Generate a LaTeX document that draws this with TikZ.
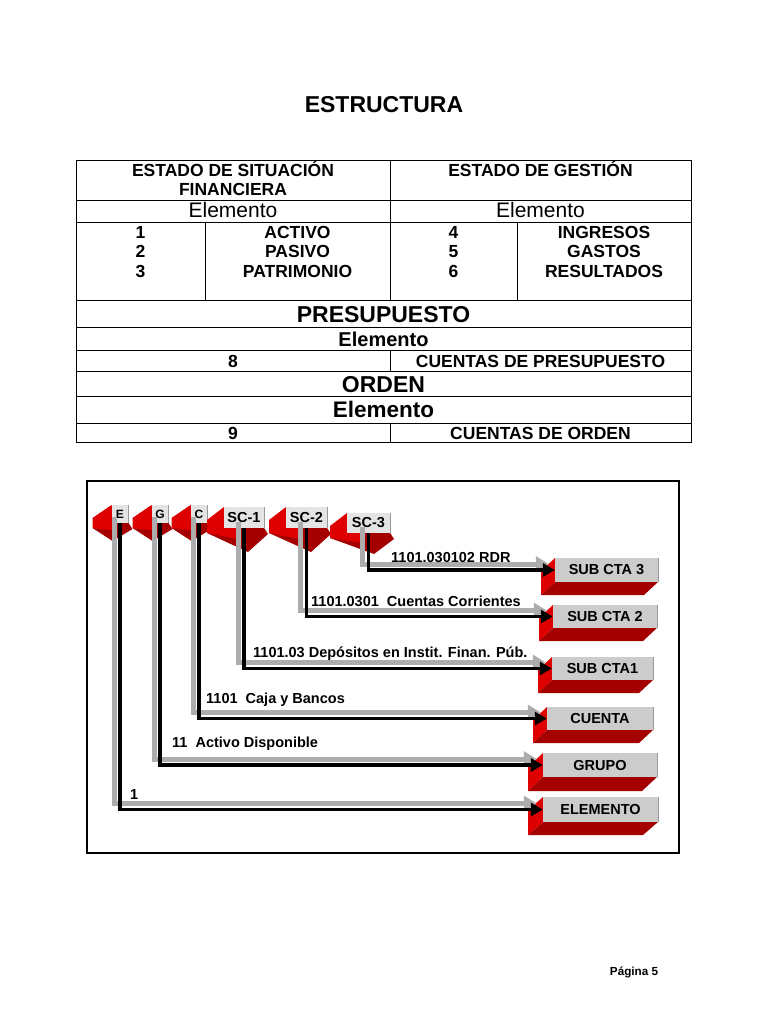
\documentclass[tikz,border=0pt]{standalone}
\usepackage{fontspec}
\setmainfont{Liberation Sans}
\usetikzlibrary{arrows.meta,calc}
\definecolor{redlight}{RGB}{222,0,0}
\definecolor{reddark}{RGB}{165,0,0}
\definecolor{facegray}{RGB}{204,204,204}
\definecolor{facelight}{RGB}{228,228,228}
\newcommand{\fEGC}{\fontsize{12}{14}\selectfont}
% right boxes: #1 name, #2 x0, #3 y0, #4 w, #5 h, #6 dx, #7 dy, #8 label, #9 fill
\newcommand{\blockthreed}[9]{%
  \fill[redlight] (#2,#3) -- (#2,#3+#5) -- (#2-#6,#3+#5+#7) -- (#2-#6,#3+#7) -- cycle;
  \fill[reddark] (#2,#3+#5) -- (#2+#4,#3+#5) -- (#2+#4-#6,#3+#5+#7) -- (#2-#6,#3+#5+#7) -- cycle;
  \node[boxface, fill=#9, minimum width=#4pt, minimum height=#5pt] (#1) at (#2+#4/2,#3+#5/2) {#8};
  \draw[white, line width=1pt] (#1.north west) -- (#1.north east);
  \draw[black!40, line width=1pt] (#1.north east) -- (#1.south east);
}
% top tabs: #1 name, #2 x0, #3 y0, #4 w, #5 h, #6 left reach, #7 depth, #8 label
\newcommand{\tabthreed}[8]{%
  \fill[reddark] (#2,#3+#5) -- (#2+#4,#3+#5) -- (#2+#4+4,#3+#5+6)
     -- (#2+#4-16,#3+#5+#7) -- (#2-#6,#3+#5+5) -- cycle;
  \fill[redlight] (#2,#3) -- (#2-#6,#3+13) -- (#2-#6,#3+#5+5) -- (#2+#4*0.3,#3+#5+#7*0.45) -- (#2+#4*0.3,#3+#5) -- cycle;
  \node[boxface, fill=facelight, minimum width=#4pt, minimum height=#5pt] (#1) at (#2+#4/2,#3+#5/2) {#8};
  \draw[white, line width=1pt] (#1.north west) -- (#1.north east);
  \draw[black!40, line width=1pt] (#1.north east) -- (#1.south east);
}
\begin{document}
\begin{tikzpicture}[x=1pt,y=-1pt,
  boxface/.style={inner sep=0pt, font=\bfseries\fontsize{14.5}{16}\selectfont},
  cell/.style={inner sep=0pt, anchor=base},
  grid/.style={line width=0.9pt},
  hb/.style={font=\bfseries\fontsize{17.5}{20}\selectfont},
  big/.style={font=\bfseries\fontsize{23}{26}\selectfont},
  elreg/.style={font=\fontsize{21}{24}\selectfont},
  elfive/.style={font=\bfseries\fontsize{20}{23}\selectfont},
  eleight/.style={font=\bfseries\fontsize{22.5}{25}\selectfont},
  lbl/.style={inner sep=0pt, anchor=base west, font=\bfseries\fontsize{14.5}{16}\selectfont},
  conn/.style={line width=3.5pt, -{Triangle[length=12pt,width=13pt]}},
  connshadow/.style={line width=5pt, black!32, -{Triangle[length=13pt,width=15pt]},
    transform canvas={xshift=-6pt,yshift=6pt}},
]
\useasboundingbox (0,0) rectangle (768,1024);

% title
\node[cell,big] (title) at (384,113) {ESTRUCTURA};

% table grid
\draw[grid] (76,160) rectangle (691,442);
\foreach \yy in {200,222,300,327,350,371,396,423}
  \draw[grid] (76,\yy) -- (691,\yy);
\draw[grid] (390,160) -- (390,300);
\draw[grid] (205,222) -- (205,300);
\draw[grid] (517,222) -- (517,300);
\draw[grid] (390,350) -- (390,371);
\draw[grid] (390,423) -- (390,442);

% table texts
\node[cell,hb] (h1) at (233,177) {ESTADO DE SITUACIÓN};
\node[cell,hb] (h1b) at (233,196) {FINANCIERA};
\node[cell,hb] (h2) at (540.5,177) {ESTADO DE GESTIÓN};
\node[cell,elreg] (el1) at (233,218) {Elemento};
\node[cell,elreg] (el2) at (540.5,218) {Elemento};
\node[cell,hb] (n1) at (140.5,239) {1};
\node[cell,hb] (n2) at (140.5,258) {2};
\node[cell,hb] (n3) at (140.5,277) {3};
\node[cell,hb] (t1) at (297.5,239) {ACTIVO};
\node[cell,hb] (t2) at (297.5,258) {PASIVO};
\node[cell,hb] (t3) at (297.5,277) {PATRIMONIO};
\node[cell,hb] (n4) at (453.5,239) {4};
\node[cell,hb] (n5) at (453.5,258) {5};
\node[cell,hb] (n6) at (453.5,277) {6};
\node[cell,hb] (t4) at (604,239) {INGRESOS};
\node[cell,hb] (t5) at (604,258) {GASTOS};
\node[cell,hb] (t6) at (604,277) {RESULTADOS};
\node[cell,big] (pres) at (383.5,322) {PRESUPUESTO};
\node[cell,elfive] (el3) at (383.5,346) {Elemento};
\node[cell,hb] (n8) at (233,367) {8};
\node[cell,hb] (cp) at (540.5,367) {CUENTAS DE PRESUPUESTO};
\node[cell,big] (ord) at (383.5,392) {ORDEN};
\node[cell,eleight] (el4) at (383.5,417.5) {Elemento};
\node[cell,hb] (n9) at (233,439) {9};
\node[cell,hb] (co) at (540.5,439) {CUENTAS DE ORDEN};

% frame of the lower diagram
\draw[line width=1.8pt] (87,481) rectangle (679,853);

% top tabs
\tabthreed{E}{111.5}{505}{17}{18}{19}{18}{\fEGC E}
\tabthreed{G}{151.5}{505}{17}{18}{19}{18}{\fEGC G}
\tabthreed{C}{190.5}{505}{17}{18}{19}{18}{\fEGC C}
\tabthreed{SCa}{224}{507}{40}{21}{17}{24}{SC-1}
\tabthreed{SCb}{286}{507}{41}{21}{17}{24}{SC-2}
\tabthreed{SCc}{347}{513}{43}{20}{17}{21}{SC-3}

% right boxes
\blockthreed{subc}{555}{558}{103}{24}{14}{13}{SUB CTA 3}{facegray}
\blockthreed{subb}{553}{605}{104}{23}{14}{13}{SUB CTA 2}{facegray}
\blockthreed{suba}{552}{657}{101}{23}{14}{13}{SUB CTA1}{facegray}
\blockthreed{cta}{547}{707}{106}{23}{14}{13}{CUENTA}{facegray}
\blockthreed{grp}{543}{753}{114}{24}{15}{14}{GRUPO}{facegray}
\blockthreed{elm}{543}{797}{115}{25}{15}{13}{ELEMENTO}{facegray}

% connectors
\foreach \a/\b in {E/elm, G/grp, C/cta, SCa/suba, SCb/subb, SCc/subc}
  \draw[connshadow] (\a.south) |- (\b.west);
\foreach \a/\b in {E/elm, G/grp, C/cta, SCa/suba, SCb/subb, SCc/subc}
  \draw[conn] (\a.south) |- (\b.west);

% connector labels
\node[lbl] (l1) at (130,799) {1};
\node[lbl] (l11) at (172,747.5) {11\ \ Activo Disponible};
\node[lbl] (l1101) at (206,703) {1101\ \ Caja y Bancos};
\node[lbl] (l110103) at (253,657) {1101.03 Depósitos en Instit. Finan. Púb.};
\node[lbl] (l11010301) at (311,606) {1101.0301\ \ Cuentas Corrientes};
\node[lbl] (lrdr) at (391,562) {1101.030102 RDR};

% page number
\node[cell,font=\bfseries\fontsize{11.7}{13}\selectfont] (pg) at (634,975) {Página 5};
\end{tikzpicture}
\end{document}
